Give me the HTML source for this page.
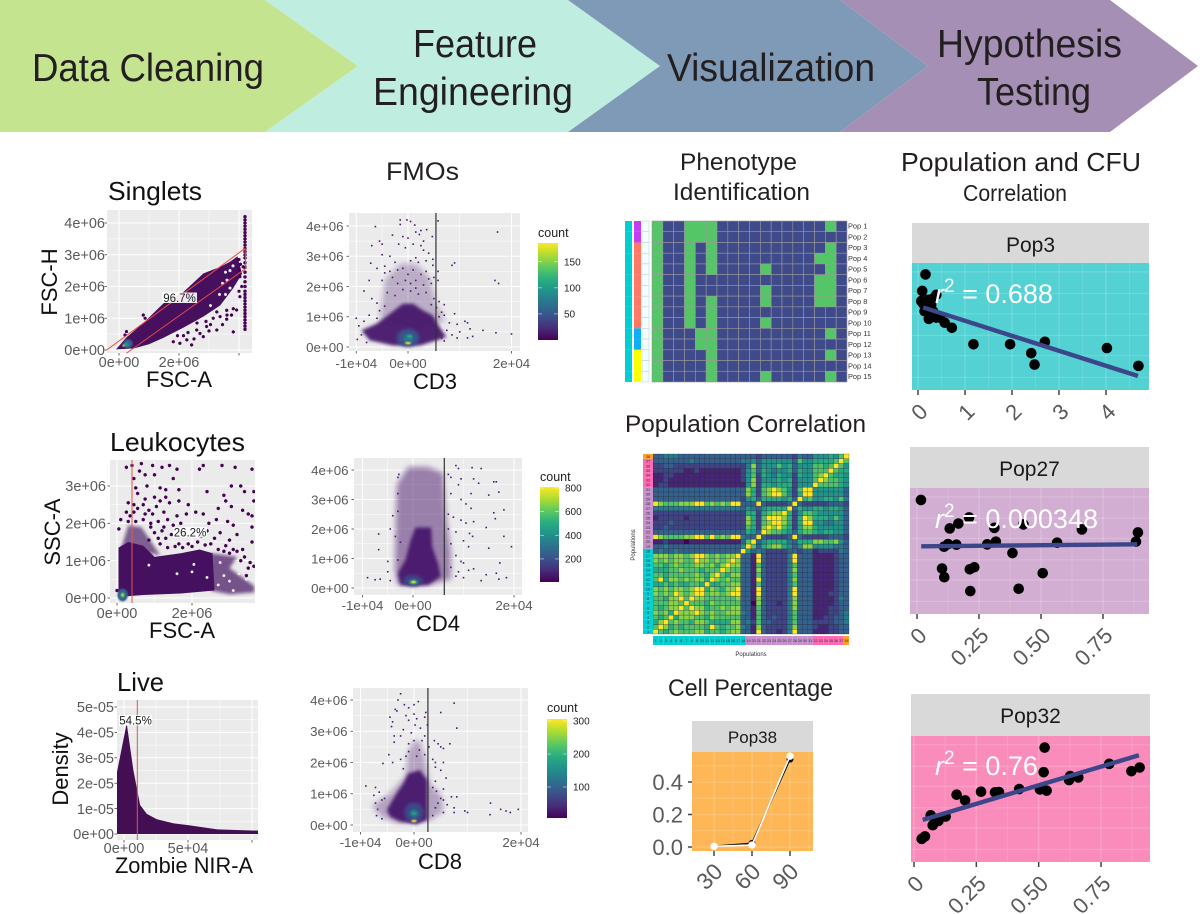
<!DOCTYPE html>
<html lang="en">
<head>
<meta charset="utf-8">
<title>Flow cytometry analysis pipeline</title>
<style>
html,body{margin:0;padding:0;background:#fff;}
svg{display:block;font-family:"Liberation Sans",sans-serif;}
</style>
</head>
<body>
<svg id="fig" xmlns="http://www.w3.org/2000/svg" width="1200" height="914" viewBox="0 0 1200 914">
<defs>
<linearGradient id="viridis-v" x1="0" y1="1" x2="0" y2="0">
<stop offset="0" stop-color="#440154"/><stop offset=".125" stop-color="#472d7b"/><stop offset=".25" stop-color="#3b528b"/><stop offset=".375" stop-color="#2c728e"/><stop offset=".5" stop-color="#21918c"/><stop offset=".625" stop-color="#28ae80"/><stop offset=".75" stop-color="#5ec962"/><stop offset=".875" stop-color="#addc30"/><stop offset="1" stop-color="#fde725"/>
</linearGradient>
<filter id="soft" x="-100%" y="-100%" width="300%" height="300%"><feGaussianBlur stdDeviation="1.6"/></filter>
<filter id="softer" x="-100%" y="-100%" width="300%" height="300%"><feGaussianBlur stdDeviation="0.9"/></filter>
<filter id="halo-blur" x="-30%" y="-30%" width="160%" height="160%"><feGaussianBlur stdDeviation="2.6"/></filter>
<filter id="core-blur" x="-30%" y="-30%" width="160%" height="160%"><feGaussianBlur stdDeviation="1.5"/></filter>
</defs>

<g>
<polygon points="0,0 265,0 358,66 265,132 0,132" fill="#c5e490"/>
<polygon points="265,0 568,0 660,66 568,132 265,132 358,66" fill="#bfeee0"/>
<polygon points="568,0 840,0 928,66 840,132 568,132 660,66" fill="#7f9ab6"/>
<polygon points="840,0 1110,0 1198,66 1110,132 840,132 928,66" fill="#a68fb5"/>
<g fill="#231f20" font-size="39">
<text x="32" y="81" textLength="232" lengthAdjust="spacingAndGlyphs">Data Cleaning</text>
<text x="413" y="57" textLength="124" lengthAdjust="spacingAndGlyphs">Feature</text>
<text x="373" y="105" textLength="200" lengthAdjust="spacingAndGlyphs">Engineering</text>
<text x="667" y="81" textLength="208" lengthAdjust="spacingAndGlyphs">Visualization</text>
<text x="937" y="57" textLength="185" lengthAdjust="spacingAndGlyphs">Hypothesis</text>
<text x="977" y="105" textLength="114" lengthAdjust="spacingAndGlyphs">Testing</text>
</g>
</g>

<g fill="#231f20" font-size="24">
<text x="108" y="200" font-size="26" textLength="94" lengthAdjust="spacingAndGlyphs" fill="#111">Singlets</text>
<text x="110" y="451" font-size="26" textLength="135" lengthAdjust="spacingAndGlyphs" fill="#111">Leukocytes</text>
<text x="117" y="691" font-size="26" textLength="47" lengthAdjust="spacingAndGlyphs" fill="#111">Live</text>
<text x="386" y="180" font-size="25" textLength="73" lengthAdjust="spacingAndGlyphs">FMOs</text>
<text x="680" y="170" textLength="117" lengthAdjust="spacingAndGlyphs">Phenotype</text>
<text x="673" y="200" textLength="137" lengthAdjust="spacingAndGlyphs">Identification</text>
<text x="901" y="171" font-size="26" textLength="240" lengthAdjust="spacingAndGlyphs">Population and CFU</text>
<text x="963" y="201" font-size="23" textLength="104" lengthAdjust="spacingAndGlyphs">Correlation</text>
<text x="625" y="432" textLength="241" lengthAdjust="spacingAndGlyphs">Population Correlation</text>
<text x="668" y="696" textLength="165" lengthAdjust="spacingAndGlyphs">Cell Percentage</text>
</g>
<g id="charts"></g>
</svg>

<script>
/* ---------- Singlets (values in units of 1e6) ---------- */
const singletsXTicks = [0, 2, 4];
const singletsXLabels = ['0e+00', '2e+06', ''];
const singletsYTicks = [0, 1, 2, 3, 4];
const singletsYLabels = ['0e+00', '1e+06', '2e+06', '3e+06', '4e+06'];
const singletsBand = [[-.1,.02],[.25,.4],[.8,.84],[1.48,1.47],[2.14,1.82],[2.81,2.41],[3.37,2.62],[3.7,2.78],[3.95,2.95],[4.1,2.4],[3.81,1.95],[3.37,1.4],[2.81,1.05],[2.14,.7],[1.48,.38],[1,.18],[.5,.05]];
const singletsPoints = [[2.7,.52],[2.26,.32],[1.81,.26],[2.42,.16],[3.26,.63],[3.81,.57],[3.59,.97],[3.14,1.0],[2.9,.9],[3.26,1.2],[3.81,1.3],[4.03,1.68],[3.59,1.25],[3.92,1.26],[4.0,1.85],[3.37,1.05],[2.92,.74],[2.59,.63],[2.03,.21],[2.81,.42],[.25,.58],[.2,.47],[.81,1.1],[.87,1.0],[4.03,2.31],[4.0,2.52],[4.09,2.0],[4.14,2.62],[4.0,2.85],[4.05,2.7],[3.6,1.1],[3.05,.8],[2.3,.55],[1.95,.45],[2.5,.35],[3.45,.8],[3.0,.6],[3.75,1.1],[2.15,.45],[2.6,.85]];
const singletsColumnX = [4.2];
const singletsColumnY = [.65,.75,.85,.95,1.05,1.15,1.25,1.35,1.45,1.55,1.65,1.75,1.85,2.0,2.15,2.3,2.45,2.6,2.75,2.9,3.0,3.1,3.2,3.3,3.4,3.5,3.6,3.7,3.8,3.9,4.0,4.1,4.2];
const singletsGaps = [[3.55,2.45],[3.7,2.5],[3.45,2.1],[3.6,2.2],[3.35,1.75],[3.05,1.4],[3.8,2.65],[3.55,1.75],[3.7,1.95]];
const singletsGate = [[-.41,0],[4.2,3.2],[4.23,2.57],[.25,-.1]];
const singletsBlobs = [[.3,.2,.16,.14,.3],[.25,.17,.08,.07,.5],[.15,.14,.04,.035,1]];

/* ---------- Leukocytes (units of 1e6) ---------- */
const leukoXTicks = [0, 2];
const leukoXLabels = ['0e+00', '2e+06'];
const leukoYTicks = [0, 1, 2, 3];
const leukoYLabels = ['0e+00', '1e+06', '2e+06', '3e+06'];
const leukoGateX = [.4];
const leukoCore = [[.04,.03],[.04,1.35],[.3,1.5],[.7,1.4],[1.0,1.1],[1.7,1.2],[2.2,1.3],[2.55,1.2],[2.6,.2],[1.7,.12],[.7,.08]];
const leukoUpperHalo = [[.1,1.3],[.3,1.95],[.65,1.9],[1.15,1.15]];
const leukoRightHalo = [[2.5,1.2],[3.2,1.1],[3.0,.8],[3.66,.32],[3.66,.15],[3,.1],[2.5,.2]];
const leukoPoints = [[.25,3.5],[.4,3.55],[.6,3.4],[.75,3.3],[.45,3.2],[.95,3.55],[.65,3.6],[1.0,3.3],[1.2,3.5],[1.4,3.55],[1.6,3.45],[1.5,3.2],[2.2,3.45],[2.3,3.55],[2.8,3.55],[3.15,3.5],[3.6,3.45],[.5,2.95],[.8,3.0],[.55,2.8],[1.15,2.95],[1.3,2.9],[1.65,2.9],[2.4,2.85],[3.3,3.0],[3.4,2.85],[3.65,2.85],[2.85,2.75],[3.05,3.0],[.3,2.55],[.45,2.5],[.75,2.65],[1.0,2.7],[1.15,2.6],[1.4,2.55],[1.65,2.6],[1.9,2.5],[2.9,2.6],[3.05,2.45],[3.65,2.6],[.25,2.3],[.35,2.2],[.55,2.4],[.85,2.35],[.95,2.25],[1.05,2.45],[1.25,2.3],[1.6,2.2],[1.85,2.25],[2.1,2.3],[2.3,2.25],[2.7,2.4],[3.35,2.35],[3.5,2.25],[3.6,2.2],[.3,2.05],[.5,2.05],[.7,2.1],[.9,2.0],[1.1,2.05],[1.35,2.1],[1.5,1.95],[1.7,2.0],[2.45,2.0],[2.65,2.1],[2.95,2.05],[3.1,1.95],[3.6,1.9],[1.2,1.8],[1.3,1.6],[1.45,1.7],[1.8,1.7],[2.05,1.75],[2.25,1.65],[2.4,1.8],[2.6,1.6],[2.75,1.75],[3.0,1.55],[3.2,1.7],[3.35,1.3],[3.6,1.5],[1.65,1.45],[1.9,1.45],[2.15,1.5],[2.5,1.45],[2.9,1.4],[3.1,1.3],[3.2,1.25],[3.4,1.1],[3.55,.95],[3.65,.85],[3.5,.8],[.9,1.9],[1.0,1.75],[1.1,1.6],[.85,1.55],[.05,1.85],[.1,2.1],[.0,.2],[1.15,1.45],[1.35,1.35],[1.55,1.38],[1.75,1.35],[2.0,1.38],[2.35,1.42],[2.7,1.3],[2.85,1.25],[3.0,1.2],[1.25,1.9],[.75,2.25],[.45,2.3],[.7,2.5],[1.3,2.7],[3.3,1.0],[3.45,.6]];
const leukoGaps = [[.85,.88],[1.6,.65],[2.0,.7],[2.05,.9],[2.4,.55],[2.75,.95],[2.85,.6],[3.0,.45],[3.25,.65],[3.45,.5],[2.7,.35],[3.1,.2]];
const leukoBlobs = [[.15,.08,.14,.17,.3],[.15,.08,.06,.08,.55],[.15,.08,.03,.04,1]];

/* ---------- Live density (x in 1e3, y in 1e-5) ---------- */
const liveXTicks = [0, 50, 100];
const liveXLabels = ['0e+00', '5e+04', ''];
const liveYTicks = [0, 1, 2, 3, 4, 5];
const liveYLabels = ['0e+00', '1e-05', '2e-05', '3e-05', '4e-05', '5e-05'];
const liveCurveX = [-8.8, 2.1, 7.3, 12.6, 17.8, 25.7, 38.8, 50, 72.9, 105];
const liveCurveY = [1.6, 4.36, 2.52, 1.14, .79, .58, .42, .35, .18, .13];
const liveGateX = [10.4];

/* ---------- CD3 FMO (x in 1e4, y in 1e6) ---------- */
const fmoXTicks = [-1, 0, 2];
const fmoXLabels = ['-1e+04', '0e+00', '2e+04'];
const fmoYTicks = [0, 1, 2, 3, 4];
const fmoYLabels = ['0e+00', '1e+06', '2e+06', '3e+06', '4e+06'];
const cd3GateX = [.54];
const cd3LegendTicks = [50, 100, 150];
const cd3Core = [[-.74,.22],[-.9,.55],[-.61,.77],[-.35,1.1],[-.1,1.43],[.1,1.43],[.29,1.21],[.48,1.04],[.61,.66],[.74,.33],[.55,.22],[.23,.05],[-.29,.05]];
const cd3Halo = [[-.55,.9],[-.45,2.2],[-.15,2.75],[.15,2.75],[.42,2.3],[.55,1.4],[.72,.9],[.2,.5]];
const cd3Blobs = [[0,.3,.22,.3,.25],[.01,.28,.1,.16,.38],[.03,.35,.05,.05,.62],[0,.13,.06,.035,1]];
const cd3Points = [[-.63,3.98],[-.15,4.2],[-.15,4.05],[-.02,4.2],[.05,4.15],[.13,4.03],[.58,4.17],[1.73,3.8],[.36,3.88],[.25,3.85],[.15,3.8],[.22,3.72],[.47,3.65],[-.3,3.7],[-.1,3.65],[0,3.6],[.3,3.5],[-.7,3.35],[-.55,3.5],[-.5,3.4],[-.18,3.4],[-.05,3.28],[.1,3.4],[.25,3.35],[.3,3.2],[.4,3.1],[-.5,3.05],[-.72,2.77],[-.45,2.67],[.15,2.95],[.05,2.85],[.2,2.8],[.35,2.85],[.48,2.9],[.48,2.7],[.58,2.5],[.9,2.78],[.85,2.7],[-.45,2.45],[-.2,2.55],[-.1,2.6],[0,2.4],[.1,2.55],[.25,2.4],[.35,2.5],[.5,2.3],[1.68,2.2],[1.75,2.1],[-.75,2.2],[-.5,2.2],[-.3,2.3],[-.2,2.1],[-.05,2.2],[.05,2.1],[.15,2.2],[.3,2.05],[.45,2.1],[.58,2.2],[-.85,1.85],[-.7,1.6],[-.4,1.8],[-.25,1.7],[-.1,1.9],[.05,1.85],[.15,1.95],[.2,1.75],[.35,1.8],[.5,1.6],[-1,.95],[-.95,.7],[-.75,1.05],[-.9,.4],[-.98,.25],[-.8,.15],[.6,1],[.65,1.15],[.7,1.05],[.8,.8],[.9,1.1],[.95,.75],[1,.5],[1.1,.85],[1.15,.8],[1.2,.6],[1.15,.3],[1.25,.35],[1.45,.55],[1.7,.47],[2,.43],[.85,.4],[.95,.3],[.75,.55],[.65,.3],[.7,.2],[-.6,.95],[-.55,1.2],[-.45,1.35],[-.6,1.45],[-.85,.85],[.55,1.3],[.6,1.5],[.45,1.4],[-.35,3.0],[-.25,2.8],[-.6,2.6],[-.35,2.5],[.4,2.25],[.7,1.4]];

/* ---------- CD4 FMO ---------- */
const cd4GateX = [.62];
const cd4LegendTicks = [200, 400, 600, 800];
const cd4Core = [[-.25,.1],[-.3,.5],[-.15,.95],[-.05,1.6],[.05,2.05],[.36,2.05],[.38,1.4],[.5,.8],[.55,.4],[.3,.1]];
const cd4Halo = [[-.36,.6],[-.34,2.2],[-.32,3.5],[-.1,4.1],[.3,4.1],[.6,3.9],[.65,2.5],[.75,1.2],[.75,.3],[.3,.1],[-.3,.1]];
const cd4Blobs = [[0,.25,.2,.2,.2],[.01,.2,.1,.1,.42],[.01,.2,.05,.04,1]];
const cd4Points = [[.85,4.15],[.9,4.05],[1.17,4.08],[1.35,4.05],[.7,3.85],[.75,3.75],[.95,3.7],[1.2,3.7],[1.3,3.55],[1.6,3.6],[1.65,3.6],[.9,3.5],[1.15,3.2],[1.5,3.15],[1.7,3.25],[.75,3.2],[.95,3],[1.05,2.85],[1.15,2.7],[1.8,2.65],[1.6,2.55],[1.63,2.35],[.7,2.5],[.8,2.4],[.95,2.3],[1.05,2.2],[1.2,2.25],[1.45,2.05],[.7,2],[.85,1.9],[1.12,1.85],[1.18,1.75],[1.8,1.75],[1.95,1.4],[1.5,1.35],[.75,1.5],[1,1.6],[1.1,1.4],[.85,1.1],[.95,.9],[1,.85],[1.72,.85],[.75,.7],[.9,.55],[1.1,.6],[1.2,.65],[1.65,.5],[1.45,.45],[1.85,.35],[1.7,.3],[1.35,.25],[.85,.4],[1,.35],[-.9,.35],[-.75,.28],[-.65,.3],[-.45,.25],[-.68,1.3],[-.68,1.83],[-.45,2],[-.5,.55],[-.5,.9],[-.3,3.75],[-.28,3.85],[-.3,3.2],[-.3,2.6],[-.4,2.45],[-.35,1.75],[-.25,1.55],[-.3,.95]];

/* ---------- CD8 FMO ---------- */
const cd8GateX = [.26];
const cd8LegendTicks = [100, 200, 300];
const cd8Core = [[-.51,.48],[-.33,1.01],[-.2,1.33],[-.11,1.65],[.11,1.76],[.25,1.44],[.25,.16],[.05,.03],[-.26,.11],[-.45,.27]];
const cd8Halo = [[-.78,.6],[-.4,1.1],[-.15,1.6],[-.12,2.3],[0,2.7],[.12,2.65],[.22,2],[.3,1.3],[.5,1],[.55,.45],[.3,.15],[-.3,.05],[-.6,.25]];
const cd8Blobs = [[0,.4,.18,.32,.22],[0,.37,.08,.13,.38],[0,.37,.04,.05,.55],[0,.13,.05,.04,1]];
const cd8Points = [[-.25,4.2],[-.3,4],[-.18,3.85],[-.35,3.7],[-.32,3.65],[-.1,3.75],[0,3.85],[.08,3.95],[.75,3.9],[.5,3.6],[.2,3.45],[-.45,3.45],[-.4,3.3],[-.42,3.15],[-.15,3.5],[-.1,3.35],[0,3.55],[.02,3.2],[.12,3.1],[.25,3.2],[.8,3.1],[.22,3.6],[.05,3.4],[-.2,3.05],[-.05,2.95],[-.25,2.85],[-.37,2.85],[.2,2.85],[.15,2.7],[0,2.7],[-.1,2.6],[-.37,2.65],[.38,2.7],[.45,2.6],[.67,2.6],[.5,2.5],[.55,2.45],[.28,2.5],[.1,2.4],[-.1,2.35],[-.15,2.2],[-.47,2.25],[-.25,2.1],[.05,2.2],[.2,2.25],[.35,2.1],[.55,2],[.4,2],[.4,1.85],[.5,1.75],[-.58,1.97],[-.4,2],[-.2,1.8],[.6,1.5],[.4,1.4],[.35,1.2],[.55,1.15],[.42,1.08],[-.9,1.25],[-.72,1.2],[-.65,1.05],[-.75,.95],[-.6,.8],[-.72,.7],[-.55,.85],[-.68,.5],[-.7,.3],[-.6,.2],[.5,.85],[.55,.8],[.45,.7],[.7,.9],[.8,.9],[.75,.55],[.62,.65],[.75,.4],[.55,.4],[.4,.55],[.35,.3],[.95,.45],[1,.4],[1.43,.7],[1.42,.33],[1.62,.5],[1.72,.45],[1.8,.4],[1.95,.5]];

/* ---------- Phenotype heatmap ---------- */
const phenoLabels = ['Pop 1','Pop 2','Pop 3','Pop 4','Pop 5','Pop 6','Pop 7','Pop 8','Pop 9','Pop 10','Pop 11','Pop 12','Pop 13','Pop 14','Pop 15'];
const phenoRows = ['100111000000000010','100111000000000000','100101000000000010','100101000000000110','100101000010000010','100100000000000110','100100000010000110','100101000010000110','100101000000000000','100101000010000000','100011000000000010','100011000000000000','100001000000000010','100001000000000000','100001000010000010'];
const phenoGroups = ['a','a','b','b','b','b','b','b','b','b','c','c','d','d','d'];

/* ---------- Population correlation (lower triangle, digit = level 0-9, row i is population i+1) ---------- */
const corrTriangle = [
'9','79','689','7679','87869','767889','7778879','77688979','878798789','8787887899','66767667769','796887878869','7767777787689','66677877767779','776787778878689','8787887798878789','88878878998787889',
'343343333333333339',
'3343333333333333359',
'11211101111111111379',
'987777889979787994339',
'3333333333333333336539',
'22322222222222222276289',
'222322222222222222862789',
'1222221222222222228627999',
'22222222222222222266267889',
'444444444444444443543566669',
'9877788899787879933393222239',
'33333333333333333256366665639',
'333333333333333333862789975269',
'3333333333333333338627898752799',
'12211111111111111158266566625559',
'112111111111111112582555656255579',
'1122111111111111125726546552655789',
'22222211211111111257365455636557779',
'223322222222222222483555756355577679',
'3333333433333333344535555553755666679',
'33444333333333333333233333324335556579'
];
const corrGroupSizes = [18, 13, 6, 1];
const corrGroupColors = ['#00ced1', '#c58fcc', '#ff69b4', '#ffa028'];

/* ---------- Cell percentage ---------- */
const pop38Days = [30, 60, 90];
const pop38White = [.004, .012, .559];
const pop38Black = [.004, .023, .54];
const pop38YTicks = [0, .2, .4];
const pop38YLabels = ['0.0', '0.2', '0.4'];

/* ---------- CFU correlation facets (y is a 0-1 position on the unlabelled axis) ---------- */
const pop3Ticks = [0, 1, 2, 3, 4];
const pop3TickLabels = ['0', '1', '2', '3', '4'];
const pop3Points = [[.16,.91],[.09,.78],[.11,.68],[.21,.71],[.28,.67],[.32,.72],[.39,.75],[.07,.7],[.18,.64],[.26,.61],[.23,.56],[.39,.57],[.57,.53],[.72,.49],[1.18,.36],[1.96,.36],[2.41,.29],[2.48,.2],[2.7,.38],[4.02,.33],[4.69,.19],[.14,.62],[.32,.62],[.47,.57]];
const pop3Fit = [[.11,.65],[4.68,.11]];
const fracTicks = [0, .25, .5, .75];
const fracTickLabels = ['0', '0.25', '0.50', '0.75'];
const pop27Points = [[.016,.905],[.21,.766],[.167,.718],[.132,.679],[.312,.684],[.429,.711],[.665,.671],[.891,.647],[.883,.574],[.565,.566],[.318,.574],[.283,.553],[.125,.555],[.109,.534],[.159,.55],[.385,.484],[.101,.361],[.11,.292],[.213,.355],[.231,.371],[.507,.324],[.215,.182],[.41,.2]];
const pop27Fit = [[.017,.537],[.888,.553]];
const pop32Points = [[.031,.184],[.044,.203],[.067,.371],[.075,.292],[.098,.326],[.127,.361],[.171,.534],[.205,.489],[.269,.558],[.325,.553],[.341,.555],[.422,.579],[.505,.576],[.532,.566],[.52,.713],[.524,.908],[.622,.65],[.626,.682],[.659,.671],[.783,.779],[.872,.721],[.905,.75]];
const pop32Fit = [[.035,.334],[.902,.847]];

/* ---------- helpers ---------- */
const NS = 'http://www.w3.org/2000/svg';
const root = document.getElementById('charts');
const GREY = '#5a5a5a';
function mk(tag, attrs, parent) {
  const e = document.createElementNS(NS, tag);
  for (const k in attrs) e.setAttribute(k, attrs[k]);
  (parent || root).appendChild(e);
  return e;
}
function named(e, name, interact) {
  
  
  return e;
}
function txt(str, x, y, size, fill, anchor, name, parent, extra) {
  const t = mk('text', Object.assign({x: x, y: y, 'font-size': size, fill: fill, 'text-anchor': anchor}, extra || {}), parent);
  t.textContent = str;
  
  
  return t;
}
function linear(d0, d1, r0, r1) { return v => r0 + (v - d0) * (r1 - r0) / (d1 - d0); }
const VIR = [[68,1,84],[71,45,123],[59,82,139],[44,114,142],[33,145,140],[40,174,128],[94,201,98],[173,220,48],[253,231,37]];
function viridis(t) {
  t = Math.max(0, Math.min(1, t)) * 8;
  const i = Math.min(7, Math.floor(t)), f = t - i, a = VIR[i], b = VIR[i + 1];
  return 'rgb(' + a.map((c, k) => Math.round(c + (b[k] - c) * f)).join(',') + ')';
}
let clipCount = 0;
function panel(c) {
  const g = mk('g', {});
  named(g, c.id + '-plot', false);
  const bg = mk('rect', {x: c.left, y: c.top, width: c.right - c.left, height: c.bottom - c.top, fill: '#ebebeb'}, g);
  named(bg, c.id + '-panel-background', false);
  const minorX = c.xTicks.slice(1).map((v, i) => (v + c.xTicks[i]) / 2);
  const minorY = c.yTicks.slice(1).map((v, i) => (v + c.yTicks[i]) / 2);
  minorX.forEach(v => { const l = mk('line', {x1: c.x(v), x2: c.x(v), y1: c.top, y2: c.bottom, stroke: '#fff', 'stroke-width': .5}, g); named(l, c.id + '-minor-gridline', false); });
  minorY.forEach(v => { const l = mk('line', {y1: c.y(v), y2: c.y(v), x1: c.left, x2: c.right, stroke: '#fff', 'stroke-width': .5}, g); named(l, c.id + '-minor-gridline', false); });
  c.xTicks.forEach((v, i) => {
    const l = mk('line', {x1: c.x(v), x2: c.x(v), y1: c.top, y2: c.bottom, stroke: '#fff', 'stroke-width': 1}, g);
    named(l, c.id + '-x-gridline', false);
    const tk = mk('line', {x1: c.x(v), x2: c.x(v), y1: c.bottom, y2: c.bottom + 2.5, stroke: '#444', 'stroke-width': .8}, g);
    named(tk, c.id + '-x-tick', false);
    if (c.xLabels[i]) txt(c.xLabels[i], c.x(v), c.xLabelY, c.labelSize, GREY, 'middle', c.id + '-x-tick-label', g);
  });
  c.yTicks.forEach((v, i) => {
    const l = mk('line', {y1: c.y(v), y2: c.y(v), x1: c.left, x2: c.right, stroke: '#fff', 'stroke-width': 1}, g);
    named(l, c.id + '-y-gridline', false);
    const tk = mk('line', {y1: c.y(v), y2: c.y(v), x1: c.left - 2.5, x2: c.left, stroke: '#444', 'stroke-width': .8}, g);
    named(tk, c.id + '-y-tick', false);
    txt(c.yLabels[i], c.yLabelX, c.y(v) + c.labelSize * .36, c.labelSize, GREY, 'end', c.id + '-y-tick-label', g);
  });
  const cid = 'clip' + (++clipCount);
  const cp = mk('clipPath', {id: cid}, g);
  mk('rect', {x: c.left, y: c.top, width: c.right - c.left, height: c.bottom - c.top}, cp);
  const marks = mk('g', {'clip-path': 'url(#' + cid + ')'}, g);
  named(marks, c.id + '-marks', false);
  return {g: g, marks: marks};
}
function region(parent, pts, c, fill, op, name, blur) {
  const p = mk('polygon', {points: pts.map(q => c.x(q[0]) + ',' + c.y(q[1])).join(' '), fill: fill, 'fill-opacity': op}, parent);
  if (blur) p.setAttribute('filter', 'url(#' + blur + ')');
  named(p, name, false);
}
function hexMark(parent, x, y, r, fill, name) {
  const pts = [];
  for (let i = 0; i < 6; i++) {
    const a = Math.PI / 6 + i * Math.PI / 3;
    pts.push((x + r * Math.cos(a)).toFixed(2) + ',' + (y + r * Math.sin(a)).toFixed(2));
  }
  const p = mk('polygon', {points: pts.join(' '), fill: fill}, parent);
  named(p, name, false);
}
function blobs(parent, list, c, name) {
  list.forEach(b => {
    const w = Math.abs(c.x(b[2]) - c.x(0)), h = Math.abs(c.y(b[3]) - c.y(0));
    const e = mk('ellipse', {cx: c.x(b[0]), cy: c.y(b[1]), rx: w, ry: h, fill: viridis(b[4]), filter: w > 6 ? 'url(#soft)' : 'url(#softer)'}, parent);
    named(e, name, false);
  });
}
function legend(c) {
  const g = mk('g', {});
  named(g, c.id + '-legend', false);
  txt('count', c.x, c.titleY, 12.5, '#222', 'start', c.id + '-legend-title', g);
  const bar = mk('rect', {x: c.x, y: c.top, width: c.w, height: c.bottom - c.top, fill: 'url(#viridis-v)'}, g);
  named(bar, c.id + '-colorbar', false);
  const s = linear(c.domain[0], c.domain[1], c.bottom, c.top);
  c.ticks.forEach(v => {
    const a = mk('line', {x1: c.x, x2: c.x + 4, y1: s(v), y2: s(v), stroke: '#fff', 'stroke-width': .6, 'stroke-opacity': .8}, g);
    named(a, c.id + '-colorbar-tick', false);
    const b = mk('line', {x1: c.x + c.w - 4, x2: c.x + c.w, y1: s(v), y2: s(v), stroke: '#fff', 'stroke-width': .6, 'stroke-opacity': .8}, g);
    named(b, c.id + '-colorbar-tick', false);
    txt(String(v), c.x + c.w + 6, s(v) + 3.6, 10, '#222', 'start', c.id + '-colorbar-label', g);
  });
}
function vline(parent, c, v, stroke, sw, name) {
  const l = mk('line', {x1: c.x(v), x2: c.x(v), y1: c.top, y2: c.bottom, stroke: stroke, 'stroke-width': sw}, parent);
  named(l, name, false);
}
function percentLabel(str, x, y, w, parent, name) {
  const r = mk('rect', {x: x, y: y, width: w, height: 10.5, fill: '#fff', 'fill-opacity': .9}, parent);
  named(r, name + '-background', false);
  txt(str, x + w / 2, y + 9.3, 11.5, '#222', 'middle', name, parent);
}

/* ---------- Singlets ---------- */
(function () {
  const c = {id: 'singlets', left: 107, top: 210, right: 252, bottom: 353, x: linear(0, 2, 119, 179), y: linear(0, 4, 350, 223), xTicks: singletsXTicks, xLabels: singletsXLabels, yTicks: singletsYTicks, yLabels: singletsYLabels, labelSize: 14.5, xLabelY: 367, yLabelX: 105};
  const p = panel(c);
  region(p.marks, singletsBand, c, '#46105f', 1, 'singlets-hex-band');
  singletsPoints.forEach(q => hexMark(p.marks, c.x(q[0]), c.y(q[1]), 1.8, '#440154', 'singlets-hex'));
  singletsColumnY.forEach(v => hexMark(p.marks, c.x(singletsColumnX[0]), c.y(v), 1.9, '#440154', 'singlets-column-hex'));
  singletsGaps.forEach(q => hexMark(p.marks, c.x(q[0]), c.y(q[1]), 1.7, '#ebebeb', 'singlets-empty-bin'));
  blobs(p.marks, singletsBlobs, c, 'singlets-density-peak');
  const gate = mk('polyline', {points: singletsGate.map(q => c.x(q[0]) + ',' + c.y(q[1])).join(' '), fill: 'none', stroke: '#ee4a42', 'stroke-width': 1}, p.g);
  named(gate, 'singlets-gate', false);
  percentLabel('96.7%', 162, 292.5, 35, p.g, 'singlets-percent-label');
  txt('FSC-A', 179, 387, 22, '#111', 'middle', 'singlets-x-axis-title', p.g);
  txt('FSC-H', 0, 0, 22, '#111', 'middle', 'singlets-y-axis-title', p.g, {transform: 'translate(57,282) rotate(-90)'});
})();

/* ---------- Leukocytes ---------- */
(function () {
  const c = {id: 'leukocytes', left: 110, top: 460, right: 255, bottom: 603, x: linear(0, 2, 117, 192), y: linear(0, 3, 598, 486), xTicks: leukoXTicks, xLabels: leukoXLabels, yTicks: leukoYTicks, yLabels: leukoYLabels, labelSize: 14.5, xLabelY: 618, yLabelX: 106};
  const p = panel(c);
  region(p.marks, leukoUpperHalo, c, '#44105f', .65, 'leukocytes-sparse-bins', 'core-blur');
  region(p.marks, leukoRightHalo, c, '#44105f', .7, 'leukocytes-sparse-bins', 'core-blur');
  region(p.marks, leukoCore, c, '#44105f', 1, 'leukocytes-hex-core');
  leukoPoints.forEach(q => hexMark(p.marks, c.x(q[0]), c.y(q[1]), 1.9, '#440154', 'leukocytes-hex'));
  leukoGaps.forEach(q => hexMark(p.marks, c.x(q[0]), c.y(q[1]), 1.6, '#ebebeb', 'leukocytes-empty-bin'));
  blobs(p.marks, leukoBlobs, c, 'leukocytes-density-peak');
  vline(p.g, c, leukoGateX[0], '#e9524a', 1, 'leukocytes-gate');
  percentLabel('26.2%', 173, 527, 34, p.g, 'leukocytes-percent-label');
  txt('FSC-A', 182, 638, 22, '#111', 'middle', 'leukocytes-x-axis-title', p.g);
  txt('SSC-A', 0, 0, 22, '#111', 'middle', 'leukocytes-y-axis-title', p.g, {transform: 'translate(60,532) rotate(-90)'});
})();

/* ---------- Live ---------- */
(function () {
  const c = {id: 'live', left: 117, top: 700, right: 258, bottom: 840, x: linear(0, 50, 124, 188), y: linear(0, 5, 834, 707), xTicks: liveXTicks, xLabels: liveXLabels, yTicks: liveYTicks, yLabels: liveYLabels, labelSize: 14.5, xLabelY: 853, yLabelX: 114};
  const p = panel(c);
  const d = liveCurveX.map((v, i) => c.x(v) + ',' + c.y(liveCurveY[i]));
  const area = mk('polygon', {points: c.x(liveCurveX[0]) + ',' + c.y(0) + ' ' + d.join(' ') + ' ' + c.x(liveCurveX[liveCurveX.length - 1]) + ',' + c.y(0), fill: '#440f52'}, p.marks);
  named(area, 'live-density-area', false);
  vline(p.g, c, liveGateX[0], '#e9524a', 1, 'live-gate');
  percentLabel('54.5%', 119, 715, 33, p.g, 'live-percent-label');
  txt('Zombie NIR-A', 184, 873, 22, '#111', 'middle', 'live-x-axis-title', p.g, {textLength: 138, lengthAdjust: 'spacingAndGlyphs'});
  txt('Density', 0, 0, 22, '#111', 'middle', 'live-y-axis-title', p.g, {transform: 'translate(68,769) rotate(-90)'});
})();

/* ---------- FMO panels ---------- */
function fmo(o) {
  const c = {id: o.id, left: o.left, top: o.top, right: o.right, bottom: o.bottom, x: linear(0, 2, o.x0, o.x2), y: linear(0, 4, o.y0, o.y4), xTicks: fmoXTicks, xLabels: fmoXLabels, yTicks: fmoYTicks, yLabels: fmoYLabels, labelSize: 13.3, xLabelY: o.xLabelY, yLabelX: o.left - 5.5};
  const p = panel(c);
  region(p.marks, o.halo, c, '#47186c', o.haloOpacity, o.id + '-sparse-bins', 'halo-blur');
  region(p.marks, o.core, c, '#47186c', .95, o.id + '-dense-bins', 'core-blur');
  o.points.forEach(q => {
    const r = mk('rect', {x: c.x(q[0]) - .8, y: c.y(q[1]) - .8, width: 1.6, height: 1.6, fill: '#471a6e'}, p.marks);
    named(r, o.id + '-bin', false);
  });
  blobs(p.marks, o.blobs, c, o.id + '-density-peak');
  vline(p.g, c, o.gate, '#333', 1.2, o.id + '-threshold-line');
  txt(o.label, o.labelX, o.labelY, 22, '#111', 'middle', o.id + '-x-axis-title', p.g);
  legend({id: o.id, x: o.barX, w: o.barW, top: o.barTop, bottom: o.barBottom, titleY: o.titleY, domain: o.domain, ticks: o.ticks});
}
fmo({id: 'cd3', label: 'CD3', left: 349, top: 213, right: 520, bottom: 351, x0: 408, x2: 511.5, y0: 347, y4: 226, xLabelY: 368, labelX: 435, labelY: 389, gate: cd3GateX[0], core: cd3Core, halo: cd3Halo, haloOpacity: .3, blobs: cd3Blobs, points: cd3Points, barX: 538, barW: 20, barTop: 243, barBottom: 340, titleY: 237, domain: [0, 186], ticks: cd3LegendTicks});
fmo({id: 'cd4', label: 'CD4', left: 354, top: 458, right: 522, bottom: 595, x0: 413, x2: 514, y0: 588, y4: 470, xLabelY: 610, labelX: 438, labelY: 631, gate: cd4GateX[0], core: cd4Core, halo: cd4Halo, haloOpacity: .5, blobs: cd4Blobs, points: cd4Points, barX: 540, barW: 19, barTop: 487, barBottom: 582, titleY: 481, domain: [5, 808], ticks: cd4LegendTicks});
fmo({id: 'cd8', label: 'CD8', left: 353, top: 688, right: 528, bottom: 832, x0: 414, x2: 521, y0: 825, y4: 700, xLabelY: 847, labelX: 440, labelY: 869, gate: cd8GateX[0], core: cd8Core, halo: cd8Halo, haloOpacity: .35, blobs: cd8Blobs, points: cd8Points, barX: 547, barW: 20, barTop: 719, barBottom: 818, titleY: 712, domain: [6, 306], ticks: cd8LegendTicks});

/* ---------- Phenotype heatmap ---------- */
(function () {
  const g = mk('g', {});
  named(g, 'phenotype-heatmap', false);
  const left = 652, top = 221, cw = 195 / phenoRows[0].length, ch = 161 / phenoRows.length;
  const groupFill = {a: '#c13ff1', b: '#ff7866', c: '#10aef5', d: '#ffff00'};
  phenoRows.forEach((row, r) => {
    const y = top + r * ch;
    const a1 = mk('rect', {x: 625, y: y, width: 7, height: ch, fill: '#00ced1'}, g);
    named(a1, 'phenotype-annotation-tissue', false);
    const a2 = mk('rect', {x: 634, y: y, width: 7, height: ch, fill: groupFill[phenoGroups[r]]}, g);
    named(a2, 'phenotype-annotation-group', false);
    const a3 = mk('rect', {x: 642, y: y, width: 7, height: ch, fill: '#f0ffff', stroke: '#bbb', 'stroke-width': .4}, g);
    named(a3, 'phenotype-annotation-blank', false);
    row.split('').forEach((v, k) => {
      const cell = mk('rect', {x: left + k * cw, y: y, width: cw, height: ch, fill: v === '1' ? '#55c667' : '#3e4a89', stroke: '#9a9a9a', 'stroke-width': .6}, g);
      named(cell, 'phenotype-cell', false);
    });
    txt(phenoLabels[r], 848, y + ch * .72, 7.4, '#333', 'start', 'phenotype-row-label', g);
  });
})();

/* ---------- Correlation heatmap ---------- */
(function () {
  const g = mk('g', {});
  named(g, 'correlation-heatmap', false);
  const n = corrTriangle.length, left = 653, top = 454, cw = 196 / n, ch = 180 / n;
  const level = (i, j) => {
    const a = Math.max(i, j), b = Math.min(i, j);
    return +(corrTriangle[a][b] || 3);
  };
  const shade = d => viridis(d === 9 ? 1 : d / 9.8);
  for (let i = 0; i < n; i++) {
    for (let j = 0; j < n; j++) {
      const cell = mk('rect', {x: left + j * cw, y: top + (n - 1 - i) * ch, width: cw, height: ch, fill: shade(level(i, j)), stroke: '#223', 'stroke-width': .35, 'stroke-opacity': .75}, g);
      named(cell, 'correlation-cell', false);
    }
  }
  let idx = 0;
  corrGroupSizes.forEach((size, gi) => {
    for (let s = 0; s < size; s++, idx++) {
      const ry = mk('rect', {x: 643, y: top + (n - 1 - idx) * ch, width: 10, height: ch, fill: corrGroupColors[gi]}, g);
      named(ry, 'correlation-row-annotation', false);
      const rx = mk('rect', {x: left + idx * cw, y: 636, width: cw, height: 9, fill: corrGroupColors[gi]}, g);
      named(rx, 'correlation-column-annotation', false);
      txt(String(idx + 1), 648, top + (n - 1 - idx) * ch + ch * .8, 3.8, '#333', 'middle', 'correlation-row-label', g);
      txt(String(idx + 1), left + idx * cw + cw / 2, 642, 3.8, '#333', 'middle', 'correlation-column-label', g);
    }
  });
  txt('Populations', 751, 656, 6, '#333', 'middle', 'correlation-x-axis-title', g);
  txt('Populations', 0, 0, 6, '#333', 'middle', 'correlation-y-axis-title', g, {transform: 'translate(635,545) rotate(-90)'});
})();

/* ---------- Facet frame shared by Pop panels ---------- */
function facetFrame(o) {
  const g = mk('g', {});
  named(g, o.id + '-facet', false);
  const strip = mk('rect', {x: o.left, y: o.stripTop, width: o.right - o.left, height: o.top - o.stripTop, fill: '#d9d9d9'}, g);
  named(strip, o.id + '-strip', false);
  txt(o.title, (o.left + o.right) / 2, o.titleY, o.titleSize, '#1a1a1a', 'middle', o.id + '-strip-label', g);
  const bg = mk('rect', {x: o.left, y: o.top, width: o.right - o.left, height: o.bottom - o.top, fill: o.fill}, g);
  named(bg, o.id + '-panel-background', false);
  const gridStroke = 'rgba(255,255,255,.16)';
  o.xTicks.forEach(v => {
    const l = mk('line', {x1: o.x(v), x2: o.x(v), y1: o.top, y2: o.bottom, stroke: gridStroke, 'stroke-width': 1.6}, g);
    named(l, o.id + '-x-gridline', false);
    if (o.minorStep) {
      const m = mk('line', {x1: o.x(v + o.minorStep), x2: o.x(v + o.minorStep), y1: o.top, y2: o.bottom, stroke: gridStroke, 'stroke-width': .8}, g);
      named(m, o.id + '-x-minor-gridline', false);
    }
    const tk = mk('line', {x1: o.x(v), x2: o.x(v), y1: o.bottom, y2: o.bottom + 5, stroke: '#444', 'stroke-width': 1.5}, g);
    named(tk, o.id + '-x-tick', false);
  });
  o.gridY.forEach(v => {
    const l = mk('line', {y1: o.y(v), y2: o.y(v), x1: o.left, x2: o.right, stroke: gridStroke, 'stroke-width': 1.2}, g);
    named(l, o.id + '-y-gridline', false);
  });
  o.xLabels.forEach((s, i) => {
    const px = o.x(o.xTicks[i]);
    txt(s, 0, 0, o.tickSize, GREY, 'end', o.id + '-x-tick-label', g, {transform: 'translate(' + (px + o.labelDx) + ',' + (o.bottom + o.labelDy) + ') rotate(-45)'});
  });
  return g;
}
const facetGridY = [.1, .27, .43, .6, .76, .93];

/* ---------- CFU regression facets ---------- */
function cfuFacet(o) {
  const s = Object.assign({}, o, {y: linear(0, 1, o.bottom, o.top), gridY: facetGridY, tickSize: 22, labelDx: 11, labelDy: 23, titleSize: 21});
  const g = facetFrame(s);
  o.points.forEach(q => {
    const d = mk('circle', {cx: s.x(q[0]), cy: s.y(q[1]), r: 5.3, fill: '#000'}, g);
    named(d, o.id + '-point', false);
  });
  const fit = mk('line', {x1: s.x(o.fit[0][0]), y1: s.y(o.fit[0][1]), x2: s.x(o.fit[1][0]), y2: s.y(o.fit[1][1]), stroke: '#3c4789', 'stroke-width': 4.4}, g);
  named(fit, o.id + '-regression-line', false);
  const t = mk('text', {x: 935, y: o.rY, 'font-size': 27, fill: '#fff'}, g);
  
  
  const a = mk('tspan', {'font-style': 'italic'}, t); a.textContent = 'r';
  const b = mk('tspan', {dy: -11, 'font-size': 19}, t); b.textContent = '2';
  const v = mk('tspan', {dy: 11}, t); v.textContent = ' = ' + o.rText;
}
cfuFacet({id: 'pop3', title: 'Pop3', left: 912, right: 1149, stripTop: 223, top: 263, bottom: 390, titleY: 252, fill: '#53d1d3', x: linear(0, 4, 918, 1106), xTicks: pop3Ticks, xLabels: pop3TickLabels, minorStep: .5, points: pop3Points, fit: pop3Fit, rText: '0.688', rY: 303});
cfuFacet({id: 'pop27', title: 'Pop27', left: 910, right: 1149, stripTop: 447, top: 488, bottom: 614, titleY: 476, fill: '#d3aed3', x: linear(0, .75, 917, 1103), xTicks: fracTicks, xLabels: fracTickLabels, minorStep: .125, points: pop27Points, fit: pop27Fit, rText: '0.000348', rY: 528});
cfuFacet({id: 'pop32', title: 'Pop32', left: 911, right: 1150, stripTop: 694, top: 736, bottom: 862, titleY: 723, fill: '#fa8cbb', x: linear(0, .75, 914, 1101), xTicks: fracTicks, xLabels: fracTickLabels, minorStep: .125, points: pop32Points, fit: pop32Fit, rText: '0.76', rY: 775});

/* ---------- Pop38 ---------- */
(function () {
  const o = {id: 'pop38', title: 'Pop38', left: 692, right: 813, stripTop: 721, top: 752, bottom: 851, titleY: 743, titleSize: 17, fill: '#fdb757', x: linear(30, 90, 714, 790), y: linear(0, .4, 847, 782), xTicks: pop38Days, xLabels: pop38Days.map(String), minorStep: 15, gridY: [0, .1, .2, .3, .4, .5], tickSize: 23, labelDx: 10, labelDy: 22};
  const g = facetFrame(o);
  pop38YTicks.forEach((v, i) => {
    const tk = mk('line', {x1: 688, x2: 692, y1: o.y(v), y2: o.y(v), stroke: '#444', 'stroke-width': 1.5}, g);
    named(tk, 'pop38-y-tick', false);
    txt(pop38YLabels[i], 683, o.y(v) + 8, 22, GREY, 'end', 'pop38-y-tick-label', g);
  });
  const draw = (vals, color, r, name) => {
    const line = mk('polyline', {points: pop38Days.map((d, i) => o.x(d) + ',' + o.y(vals[i])).join(' '), fill: 'none', stroke: color, 'stroke-width': 1.6}, g);
    named(line, name + '-line', false);
    pop38Days.forEach((d, i) => {
      const c = mk('circle', {cx: o.x(d), cy: o.y(vals[i]), r: r, fill: color}, g);
      named(c, name + '-point', false);
    });
  };
  draw(pop38Black, '#111', 3.4, 'pop38-black-series');
  draw(pop38White, '#fff', 3.7, 'pop38-white-series');
})();
</script>
</body>
</html>
